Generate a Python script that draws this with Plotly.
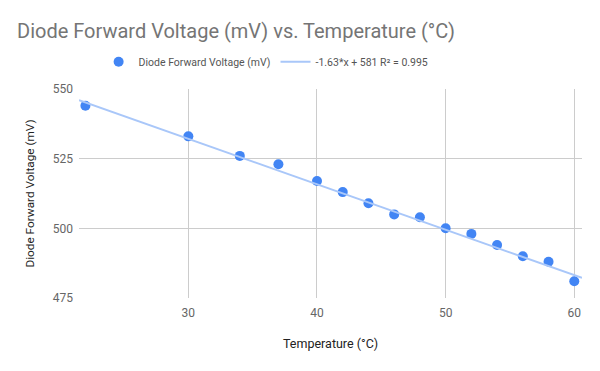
import plotly.graph_objects as go

temperature = [22, 30, 34, 37, 40, 42, 44, 46, 48, 50, 52, 54, 56, 58, 60]
voltage = [544, 533, 526, 523, 517, 513, 509, 505, 504, 500, 498, 494, 490, 488, 481]
slope = -1.63
intercept = 581
x_range = [21.5, 60.6]
y_range = [475, 550]
trend_label = "-1.63*x + 581 R² = 0.995"

trend_x = x_range
trend_y = [slope * x + intercept for x in trend_x]

fig = go.Figure()
fig.add_trace(go.Scatter(
    x=temperature, y=voltage, mode="markers",
    name="Diode Forward Voltage (mV)",
    marker=dict(color="#4285F4", size=10),
))
fig.add_trace(go.Scatter(
    x=trend_x, y=trend_y, mode="lines",
    name=trend_label,
    line=dict(color="#A9C7F9", width=2),
))

font = "Roboto, Arial, sans-serif"
fig.update_layout(
    width=600, height=371,
    margin=dict(l=71, r=26, t=81, b=81, autoexpand=False),
    paper_bgcolor="white", plot_bgcolor="white",
    font=dict(family=font, color="#666666", size=12),
    title=dict(text="Diode Forward Voltage (mV) vs. Temperature (°C)",
               x=0.015, xanchor="left", xref="container",
               y=0.938, yanchor="middle", yref="container",
               font=dict(size=20, color="#757575", family=font)),
    legend=dict(orientation="h", x=0.039, xanchor="left", y=1.13, yanchor="middle",
                font=dict(size=10.5, color="#555555"), itemwidth=30,
                bgcolor="rgba(0,0,0,0)"),
    showlegend=True,
)
fig.update_xaxes(
    range=x_range, tickvals=[30, 40, 50, 60],
    showgrid=True, gridcolor="#CCCCCC", gridwidth=1,
    zeroline=False, showline=False, ticks="", automargin=False,
    ticklabelstandoff=6,
    tickfont=dict(size=12, color="#666666"),
    title=dict(text="Temperature (°C)", font=dict(size=12.5, color="#222222"), standoff=20),
)
fig.update_yaxes(
    range=y_range, tickvals=[475, 500, 525, 550],
    showgrid=True, gridcolor="#CCCCCC", gridwidth=1,
    zeroline=False, showline=False, ticks="", automargin=False,
    ticklabelstandoff=5,
    tickfont=dict(size=12, color="#666666"),
    title=dict(text="Diode Forward Voltage (mV)", font=dict(size=11.8, color="#222222"), standoff=15),
)

fig.write_html("out.html")
